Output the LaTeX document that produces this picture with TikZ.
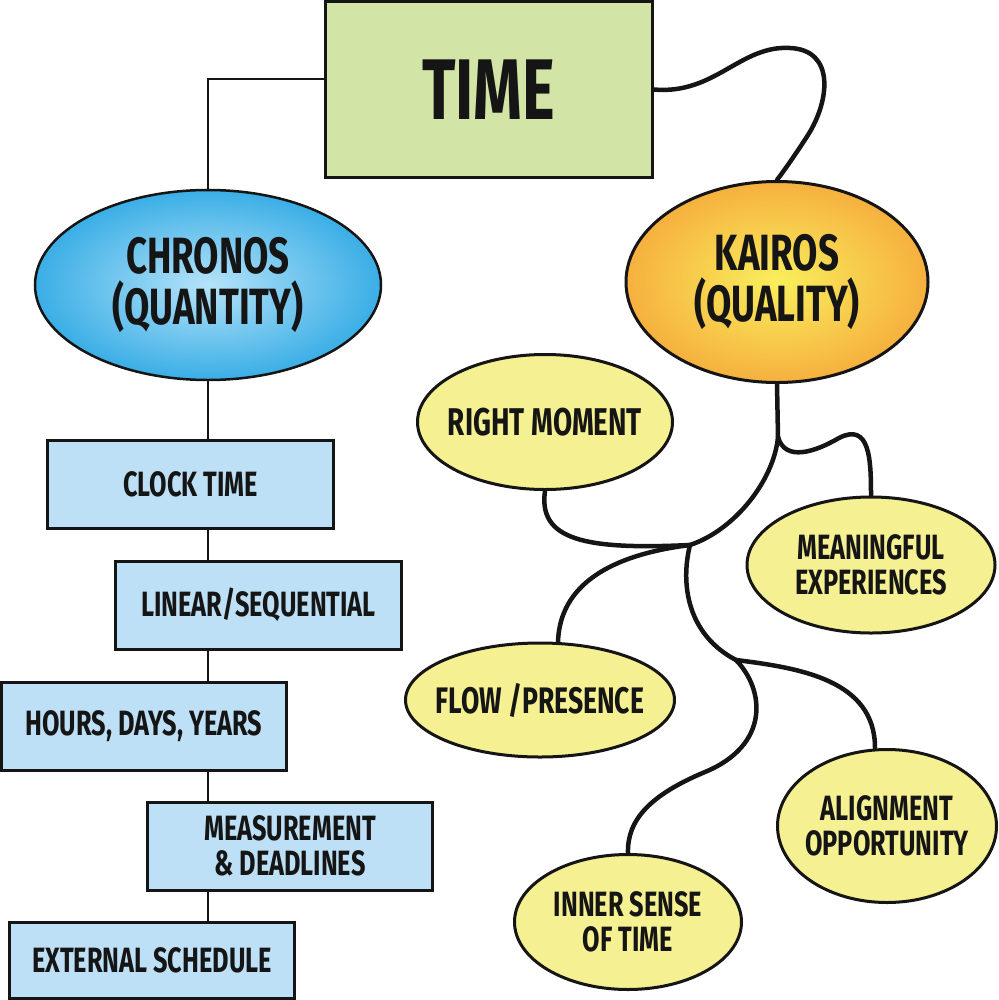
\documentclass[tikz,border=0pt]{standalone}
\usepackage{fontspec}
\newfontfamily\handfont[FakeStretch=0.72]{Fira Sans}
\usetikzlibrary{shapes.geometric}
\definecolor{timegreen}{HTML}{D2E5A6}
\definecolor{boxblue}{HTML}{BDE0F6}
\definecolor{leafyellow}{HTML}{F5F091}
\definecolor{chronin}{HTML}{B5E3F8}
\definecolor{chronout}{HTML}{3AAEE6}
\definecolor{kairin}{HTML}{F9EF5C}
\definecolor{kairout}{HTML}{F6B03F}
\definecolor{ink}{HTML}{151515}
\tikzset{
	stem/.style={line width=0.4mm, draw=ink},
	branch/.style={line width=0.9mm, draw=ink, line cap=round},
	hand/.style={text=ink, font=\handfont\bfseries\fontsize{#1}{#1}\selectfont}
}
\begin{document}
	\begin{tikzpicture}[x=0.2mm,y=-0.2mm]
		\useasboundingbox (0,0) rectangle (998,1000);

		\node[draw=ink, fill=timegreen, line width=0.6mm, minimum width=65.4mm, minimum height=35mm, hand=49] (time) at (488.5,89.5) {TIME};

		\begin{scope}[every node/.style={ellipse, draw=ink, inner xsep=-12mm, inner ysep=-8mm, align=center, hand=29}]
			\node[line width=0.5mm, minimum width=69.2mm, minimum height=38mm, inner color=chronin, outer color=chronout] (chronos) at (208,285) {CHRONOS\\(QUANTITY)};
			\node[line width=0.6mm, minimum width=60.4mm, minimum height=40.2mm, inner color=kairin, outer color=kairout] (kairos) at (777,282) {KAIROS\\(QUALITY)};
		\end{scope}

		\begin{scope}[every node/.style={draw=ink, fill=boxblue, line width=0.6mm, minimum width=57mm, minimum height=17.6mm, align=center, hand=20}]
			\node (clock) at (190.5,484) {CLOCK TIME};
			\node (linear) at (258.5,605) {LINEAR/SEQUENTIAL};
			\node (hours) at (144,726) {HOURS, DAYS, YEARS};
			\node (measure) at (290,846) {MEASUREMENT\\\&\,DEADLINES};
			\node[minimum height=15.2mm] (external) at (152,960) {EXTERNAL SCHEDULE};
		\end{scope}

		\begin{scope}[every node/.style={ellipse, draw=ink, fill=leafyellow, line width=0.6mm, inner xsep=-12mm, inner ysep=-8mm, align=center, hand=20}]
			\node[minimum width=51mm, minimum height=27mm, hand=22] (rmoment) at (545,422) {RIGHT MOMENT};
			\node[minimum width=49.6mm, minimum height=27.2mm] (meaning) at (871,565) {MEANINGFUL\\EXPERIENCES};
			\node[minimum width=53.8mm, minimum height=22.8mm, hand=21] (flow) at (540,700) {FLOW\,/PRESENCE};
			\node[minimum width=43.8mm, minimum height=30.6mm] (align) at (887,826) {ALIGNMENT\\OPPORTUNITY};
			\node[minimum width=45.4mm, minimum height=27mm] (inner) at (628,922) {INNER SENSE\\OF TIME};
		\end{scope}

		% chronos side
		\draw[stem] ([yshift=2.2mm]time.west) -| (chronos.north);
		\foreach \a/\b in {chronos/clock,clock/linear,linear/hours,hours/measure,measure/external}
			\draw[stem] (\a.south -| chronos.south) -- (\b.north -| chronos.south);

		% kairos side
		\coordinate (fork) at (778,437);
		\coordinate (knot) at (690,545);
		\coordinate (split) at (736,660);
		\draw[branch] (time.east) .. controls (715,95) and (740,45) .. (790,48) .. controls (835,50) and (830,100) .. (808,135) .. controls (795,155) and (786,168) .. (kairos.north);
		\draw[branch] (kairos.south) -- (fork) .. controls (774,480) and (735,530) .. (knot);
		\draw[branch] (fork) .. controls (785,462) and (815,452) .. (839,438) .. controls (870,422) and (871,460) .. (meaning.north);
		\draw[branch] (rmoment.south) .. controls (538,540) and (585,550) .. (knot);
		\draw[branch] (knot) .. controls (610,555) and (560,585) .. ([xshift=3.6mm]flow.north);
		\draw[branch] (knot) .. controls (680,585) and (688,635) .. (split);
		\draw[branch] (split) .. controls (765,690) and (770,745) .. (705,772) .. controls (650,795) and (627,820) .. (inner.north);
		\draw[branch] (split) .. controls (800,668) and (875,680) .. ([xshift=-2.4mm]align.north);
	\end{tikzpicture}
\end{document}
